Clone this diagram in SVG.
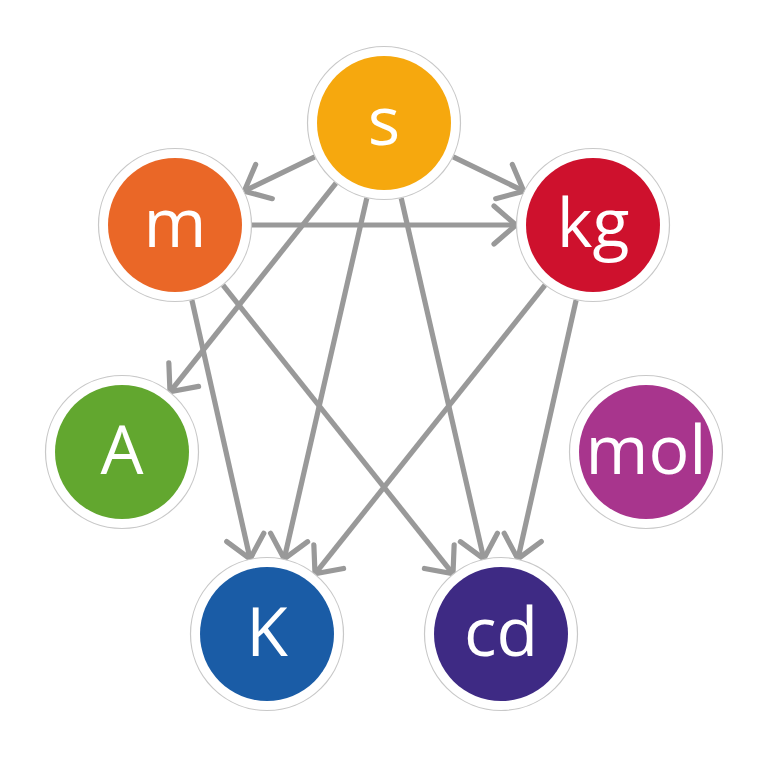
<svg xmlns="http://www.w3.org/2000/svg" width="768" height="768" viewBox="0 0 768 768">
<style>
.ring{fill:#ffffff;stroke:#c8c8c8;stroke-width:1.2}
.lbl{font-family:"Open Sans","Noto Sans","DejaVu Sans",sans-serif;font-size:68px;fill:#ffffff;text-anchor:middle}
.edge{stroke:#999999;stroke-width:5.2;fill:none}
</style>
<defs>
<marker id="arr" markerUnits="userSpaceOnUse" orient="auto" refX="0" refY="0" markerWidth="80" markerHeight="80" viewBox="-40 -40 80 80" overflow="visible">
<path d="M-22,-19 L0,0 L-22,19" fill="none" stroke="#999999" stroke-width="5.2" stroke-linecap="round" stroke-linejoin="round"/>
</marker>
</defs>
<rect width="768" height="768" fill="#ffffff"/>
<g id="connectors">
<line class="edge" x1="314.8" y1="156.8" x2="244.2" y2="191.2" marker-end="url(#arr)"/>
<line class="edge" x1="453.2" y1="156.8" x2="523.8" y2="191.2" marker-end="url(#arr)"/>
<line class="edge" x1="336.0" y1="183.2" x2="170.0" y2="391.8" marker-end="url(#arr)"/>
<line class="edge" x1="366.8" y1="198.1" x2="284.2" y2="558.9" marker-end="url(#arr)"/>
<line class="edge" x1="401.2" y1="198.1" x2="483.8" y2="558.9" marker-end="url(#arr)"/>
<line class="edge" x1="252" y1="225" x2="516" y2="225" marker-end="url(#arr)"/>
<line class="edge" x1="191.9" y1="300.1" x2="250.1" y2="558.9" marker-end="url(#arr)"/>
<line class="edge" x1="223.0" y1="285.2" x2="453.0" y2="573.8" marker-end="url(#arr)"/>
<line class="edge" x1="545.0" y1="285.2" x2="315.0" y2="573.8" marker-end="url(#arr)"/>
<line class="edge" x1="576.1" y1="300.1" x2="517.9" y2="558.9" marker-end="url(#arr)"/>
</g>
<g id="node-s">
<circle class="ring" cx="384" cy="123" r="76.5"/>
<circle cx="384" cy="123" r="67" fill="#F6A80E"/>
<text class="lbl" x="384" y="145">s</text>
</g>
<g id="node-m">
<circle class="ring" cx="175" cy="225" r="76.5"/>
<circle cx="175" cy="225" r="67" fill="#EA6727"/>
<text class="lbl" x="175" y="247">m</text>
</g>
<g id="node-kg">
<circle class="ring" cx="593" cy="225" r="76.5"/>
<circle cx="593" cy="225" r="67" fill="#CE112D"/>
<text class="lbl" x="593" y="247">kg</text>
</g>
<g id="node-A">
<circle class="ring" cx="122" cy="452" r="76.5"/>
<circle cx="122" cy="452" r="67" fill="#62A72F"/>
<text class="lbl" x="122" y="474">A</text>
</g>
<g id="node-mol">
<circle class="ring" cx="646" cy="452" r="76.5"/>
<circle cx="646" cy="452" r="67" fill="#A8358D"/>
<text class="lbl" x="646" y="474">mol</text>
</g>
<g id="node-K">
<circle class="ring" cx="267" cy="634" r="76.5"/>
<circle cx="267" cy="634" r="67" fill="#1A5CA6"/>
<text class="lbl" x="267" y="656">K</text>
</g>
<g id="node-cd">
<circle class="ring" cx="501" cy="634" r="76.5"/>
<circle cx="501" cy="634" r="67" fill="#3E2A84"/>
<text class="lbl" x="501" y="656">cd</text>
</g>
</svg>
